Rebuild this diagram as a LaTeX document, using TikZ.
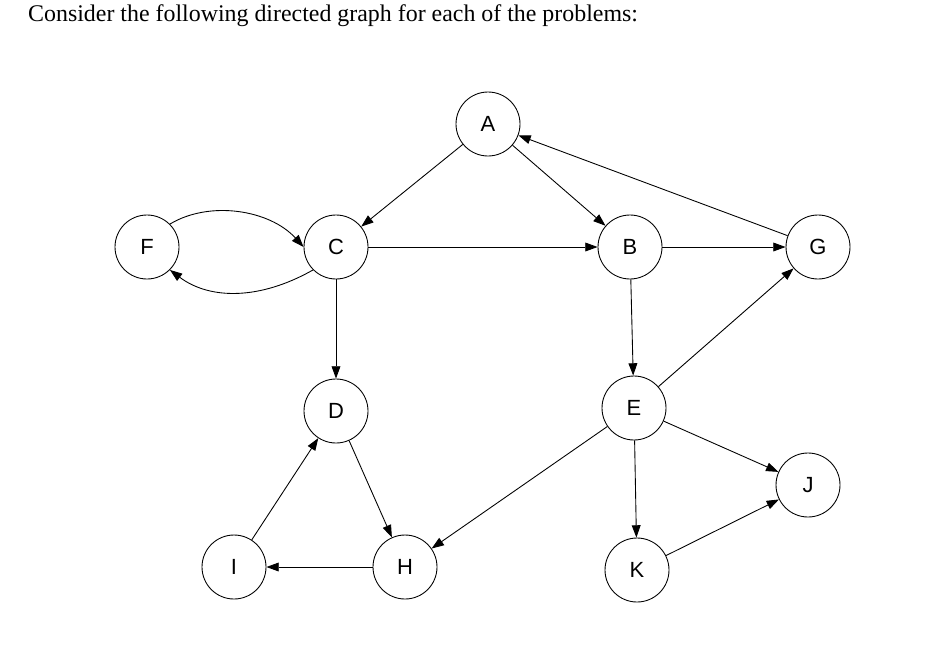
\documentclass[tikz,border=0pt]{standalone}
\usepackage{fontspec}
\setmainfont{Liberation Serif}
\newfontfamily\lsans{Liberation Sans}
\usetikzlibrary{arrows.meta}
\begin{document}
\begin{tikzpicture}[x=0.02cm,y=-0.02cm,
  v/.style={circle,draw,line width=0.5pt,minimum size=64*0.02cm,inner sep=0pt,font=\lsans\fontsize{12.5}{14}\selectfont},
  e/.style={-{Triangle[length=7pt,width=5pt]},line width=0.5pt}]
\useasboundingbox (0,0) rectangle (946,656);
\node[anchor=west,font=\fontsize{13.6}{16}\selectfont] (t) at (22,16) {Consider the following directed graph for each of the problems:};
\node[v] (A) at (488,124) {A};
\node[v] (F) at (147,247) {F};
\node[v] (C) at (336,247) {C};
\node[v] (B) at (630,247) {B};
\node[v] (G) at (818,247) {G};
\node[v] (D) at (336,411) {D};
\node[v] (E) at (634,408) {E};
\node[v] (J) at (808,485) {J};
\node[v] (I) at (234,567) {I};
\node[v] (H) at (405,567) {H};
\node[v] (K) at (637,570) {K};
\draw[e] (A) -- (C);
\draw[e] (A) -- (B);
\draw[e] (G) -- (A);
\draw[e] (F.north east) .. controls (210,200) and (270,210) .. (C.west);
\draw[e] (C.south west) .. controls (260,300) and (210,300) .. (F.south east);
\draw[e] (C) -- (B);
\draw[e] (B) -- (G);
\draw[e] (B) -- (E);
\draw[e] (C) -- (D);
\draw[e] (E) -- (G);
\draw[e] (E) -- (J);
\draw[e] (E) -- (H);
\draw[e] (E) -- (K);
\draw[e] (K) -- (J);
\draw[e] (D) -- (H);
\draw[e] (H) -- (I);
\draw[e] (I) -- (D);
\end{tikzpicture}
\end{document}
